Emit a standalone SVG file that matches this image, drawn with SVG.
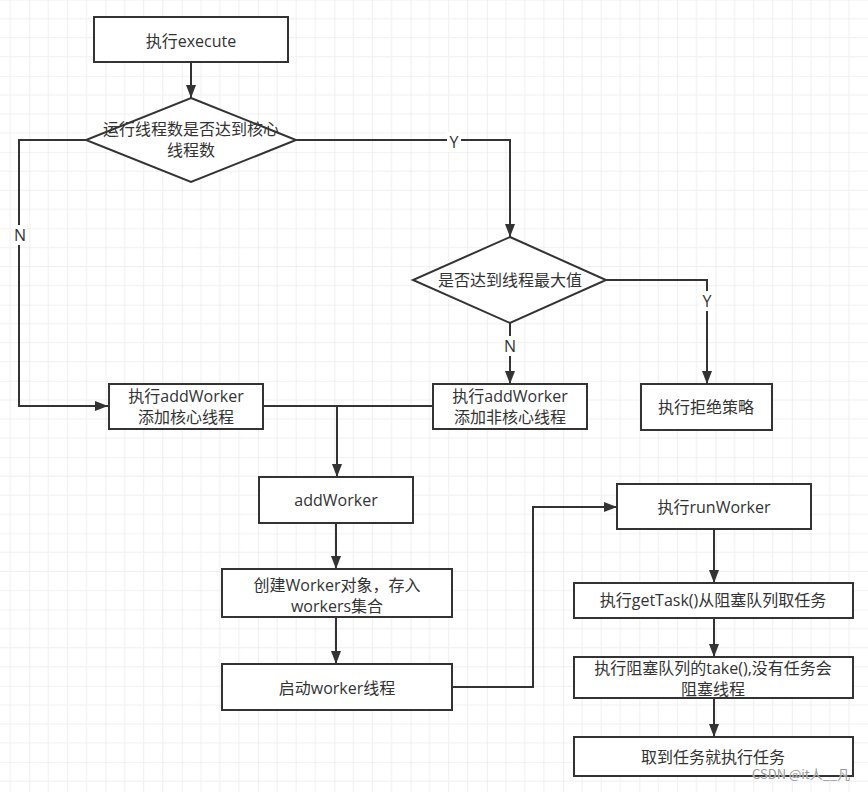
<svg xmlns="http://www.w3.org/2000/svg" width="868" height="792" viewBox="0 0 868 792">
<defs>
<pattern id="grid" patternUnits="userSpaceOnUse" x="29.3" y="-0.4" width="76.25" height="76.25">
<rect x="0" y="0" width="76.25" height="76.25" fill="#ffffff"/>
<g stroke="#f0f0f0" stroke-width="1">
<line x1="19.06" y1="0" x2="19.06" y2="76.25"/>
<line x1="38.12" y1="0" x2="38.12" y2="76.25"/>
<line x1="57.19" y1="0" x2="57.19" y2="76.25"/>
<line x1="0" y1="19.06" x2="76.25" y2="19.06"/>
<line x1="0" y1="38.12" x2="76.25" y2="38.12"/>
<line x1="0" y1="57.19" x2="76.25" y2="57.19"/>
</g>
<g stroke="#e6e6e6" stroke-width="1.2">
<line x1="0" y1="0" x2="0" y2="76.25"/>
<line x1="0" y1="0" x2="76.25" y2="0"/>
</g>
</pattern>
<marker id="arr" markerUnits="userSpaceOnUse" markerWidth="13" markerHeight="10" refX="13" refY="5" orient="auto">
<path d="M0,0 L13,5 L0,10 Z" fill="#333333"/>
</marker>
</defs>
<style>
.box{fill:#ffffff;stroke:#333333;stroke-width:2}
.t{font-family:"Open Sans","Noto Sans CJK SC",sans-serif;font-size:16px;fill:#333333;text-anchor:middle}
.lbl{font-family:"Open Sans","Noto Sans CJK SC",sans-serif;font-size:16px;fill:#333333;text-anchor:middle}
.c{fill:none;stroke:#333333;stroke-width:2}
.a{marker-end:url(#arr)}
.wm{font-family:"Noto Sans CJK SC",sans-serif;font-size:13px;fill:#9a9a9a;stroke:#ffffff;stroke-width:0.4;paint-order:stroke}
</style>
<rect x="0" y="0" width="868" height="792" fill="url(#grid)"/>

<g id="connectors">
<path class="c a" d="M191,62 V98"/>
<path class="c a" d="M86,140 H19 V406 H108"/>
<path class="c a" d="M296,140 H510 V237"/>
<path class="c a" d="M606,280 H707 V384"/>
<path class="c a" d="M510,323 V384"/>
<path class="c" d="M263,406 H433"/>
<path class="c a" d="M337,406 V477"/>
<path class="c a" d="M336,523 V569"/>
<path class="c a" d="M336,617 V664"/>
<path class="c a" d="M452,687 H533 V507 H617"/>
<path class="c a" d="M714,529 V583"/>
<path class="c a" d="M714,618 V657"/>
<path class="c a" d="M714,698 V737"/>
<rect x="13" y="225" width="14" height="20" fill="#ffffff"/>
<text class="lbl" x="20" y="241">N</text>
<rect x="447" y="132" width="14" height="20" fill="#ffffff"/>
<text class="lbl" x="454" y="148">Y</text>
<rect x="700" y="291" width="14" height="20" fill="#ffffff"/>
<text class="lbl" x="707" y="307">Y</text>
<rect x="503" y="336" width="14" height="20" fill="#ffffff"/>
<text class="lbl" x="510" y="352">N</text>
</g>

<g id="execute">
<rect class="box" x="94" y="17" width="194" height="45"/>
<text class="t" x="191" y="47">执行execute</text>
</g>
<g id="decision-core">
<polygon class="box" points="191,98 296,140 191,182 86,140"/>
<text class="t" x="191" y="135">运行线程数是否达到核心</text>
<text class="t" x="191" y="156">线程数</text>
</g>
<g id="decision-max">
<polygon class="box" points="510,237 606,280 510,323 413,280"/>
<text class="t" x="510" y="286">是否达到线程最大值</text>
</g>
<g id="add-core">
<rect class="box" x="109" y="384" width="154" height="45"/>
<text class="t" x="186" y="402">执行addWorker</text>
<text class="t" x="186" y="423">添加核心线程</text>
</g>
<g id="add-noncore">
<rect class="box" x="433" y="384" width="154" height="45"/>
<text class="t" x="510" y="402">执行addWorker</text>
<text class="t" x="510" y="423">添加非核心线程</text>
</g>
<g id="reject">
<rect class="box" x="641" y="384" width="131" height="46"/>
<text class="t" x="706" y="413">执行拒绝策略</text>
</g>
<g id="addWorker">
<rect class="box" x="259" y="477" width="154" height="46"/>
<text class="t" x="336" y="506">addWorker</text>
</g>
<g id="create-worker">
<rect class="box" x="222" y="569" width="230" height="48"/>
<text class="t" x="337" y="591">创建Worker对象，存入</text>
<text class="t" x="337" y="612">workers集合</text>
</g>
<g id="start-worker">
<rect class="box" x="222" y="664" width="230" height="46"/>
<text class="t" x="337" y="694">启动worker线程</text>
</g>
<g id="runWorker">
<rect class="box" x="617" y="484" width="194" height="45"/>
<text class="t" x="714" y="513">执行runWorker</text>
</g>
<g id="getTask">
<rect class="box" x="574" y="583" width="279" height="35"/>
<text class="t" x="713" y="606">执行getTask()从阻塞队列取任务</text>
</g>
<g id="take">
<rect class="box" x="574" y="657" width="279" height="41"/>
<text class="t" x="713" y="674">执行阻塞队列的take(),没有任务会</text>
<text class="t" x="713" y="695">阻塞线程</text>
</g>
<g id="execute-task">
<rect class="box" x="574" y="737" width="279" height="39"/>
<text class="t" x="713" y="763">取到任务就执行任务</text>
</g>
<text class="wm" x="752" y="779">CSDN @it人__凡</text>
</svg>
